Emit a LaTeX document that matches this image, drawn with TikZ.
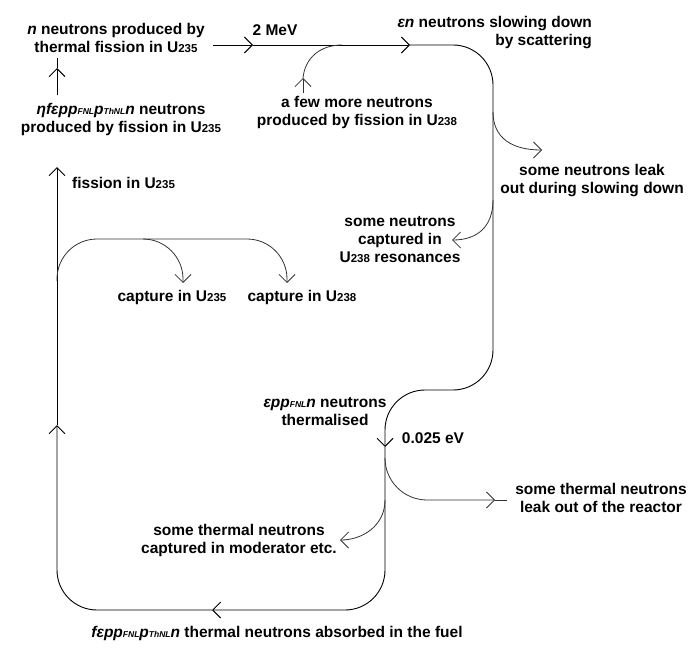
\documentclass[tikz,border=0pt]{standalone}
\usepackage{fontspec}
\setmainfont{Liberation Sans}
\usetikzlibrary{arrows.meta}
\newcommand\smd[1]{{\fontsize{11.5}{11.5}\selectfont #1}}
\newcommand\subx[1]{{\fontsize{8.5}{8.5}\selectfont #1}}
\begin{document}
\begin{tikzpicture}[x=1pt,y=-1pt,
  lbl/.style={font=\fontsize{15.5}{18}\selectfont\bfseries, align=center, inner sep=0pt},
  main/.style={line width=0.9pt, black},
  br/.style={line width=0.8pt, black!80},
  chev/.style={-{Straight Barb[length=8pt,width=16pt]}},
  rc/.style={rounded corners=40pt}]
\useasboundingbox (0,0) rectangle (700,650);

% labels
\node[lbl] (n1) at (116,38) {\textit{n} neutrons produced by\\thermal fission in U\smd{235}};
\node[lbl] (eta) at (121,119) {\textit{ηfεpp\subx{FNL}p\subx{ThNL}n} neutrons\\produced by fission in U\smd{235}};
\node[lbl, anchor=west] (fis) at (72,183) {fission in U\smd{235}};
\node[lbl] (mev) at (275,30) {2 MeV};
\node[lbl, align=right, anchor=east] (eps) at (592,33) {\textit{εn} neutrons slowing down\\by scattering};
\node[lbl] (few) at (357,112) {a few more neutrons\\produced by fission in U\smd{238}};
\node[lbl] (leak) at (592,181) {some neutrons leak\\out during slowing down};
\node[lbl] (res) at (400,240) {some neutrons\\captured in\\U\smd{238} resonances};
\node[lbl] (c235) at (172,297) {capture in U\smd{235}};
\node[lbl] (c238) at (302,297) {capture in U\smd{238}};
\node[lbl] (therm) at (325,412) {\textit{εpp\subx{FNL}n} neutrons\\thermalised};
\node[lbl] (ev) at (433,438) {0.025 eV};
\node[lbl] (tleak) at (601,498) {some thermal neutrons\\leak out of the reactor};
\node[lbl] (mod) at (239,540) {some thermal neutrons\\captured in moderator etc.};
\node[lbl] (abs) at (277,633) {\textit{fεpp\subx{FNL}p\subx{ThNL}n} thermal neutrons absorbed in the fuel};

% main loop coordinates
\coordinate (tA) at (213,45);
\coordinate (tB) at (253,45);
\coordinate (tC) at (410,45);
\coordinate (tR) at (493,45);
\coordinate (sA) at (493,390);
\coordinate (sB) at (385,390);
\coordinate (vA) at (385,447);
\coordinate (bR) at (385,610);
\coordinate (bA) at (212,610);
\coordinate (bL) at (57,610);
\coordinate (lA) at (57,425);
\coordinate (lT) at (57,167);
\coordinate (uA) at (57,95);
\coordinate (uB) at (57,68);
\coordinate (uC) at (57,58);

\draw[main,chev] (tA) -- (tB);
\draw[main,chev] (tB) -- (tC);
\draw[main,chev,rc] (tC) -- (tR) -- (sA) -- (sB) -- (vA);
\draw[main,chev,rc] (vA) -- (bR) -- (bA);
\draw[main,chev,rc] (bA) -- (bL) -- (lA);
\draw[main,chev] (lA) -- (lT);
\draw[main,chev] (uA) -- (uB);
\draw[main] (uB) -- (uC);

% a few more neutrons
\coordinate (fA) at (303,93);
\coordinate (fB) at (303,78);
\coordinate (fC) at (342,45);
\draw[br,chev] (fA) -- (fB);
\draw[br] (fB) .. controls (305,58) and (320,45) .. (fC);

% leak during slowing down
\coordinate (kA) at (493,112);
\coordinate (kB) at (542,150);
\draw[br,chev] (kA) .. controls (493,138) and (512,150) .. (kB);

% U238 resonances
\coordinate (rA) at (493,200);
\coordinate (rB) at (452,240);
\draw[br,chev] (rA) .. controls (493,226) and (478,240) .. (rB);

% captures
\coordinate (cA) at (57,281);
\coordinate (cK) at (57,239);
\coordinate (cL) at (287,239);
\coordinate (cB) at (287,283);
\draw[br,chev,rc] (cA) -- (cK) -- (cL) -- (cB);
\coordinate (dA) at (143,239);
\coordinate (dB) at (183,283);
\draw[br,chev] (dA) .. controls (165,239) and (183,257) .. (183,279) -- (dB);

% thermal leak
\coordinate (eA) at (385,458);
\coordinate (eK) at (385,500);
\coordinate (eB) at (495,500);
\coordinate (eC) at (507,500);
\draw[br,chev,rounded corners=42pt] (eA) -- (eK) -- (eB);
\draw[br] (eB) -- (eC);

% moderator capture
\coordinate (mA) at (385,500);
\coordinate (mB) at (340,540);
\draw[br,chev] (mA) .. controls (385,526) and (362,540) .. (mB);
\end{tikzpicture}
\end{document}
